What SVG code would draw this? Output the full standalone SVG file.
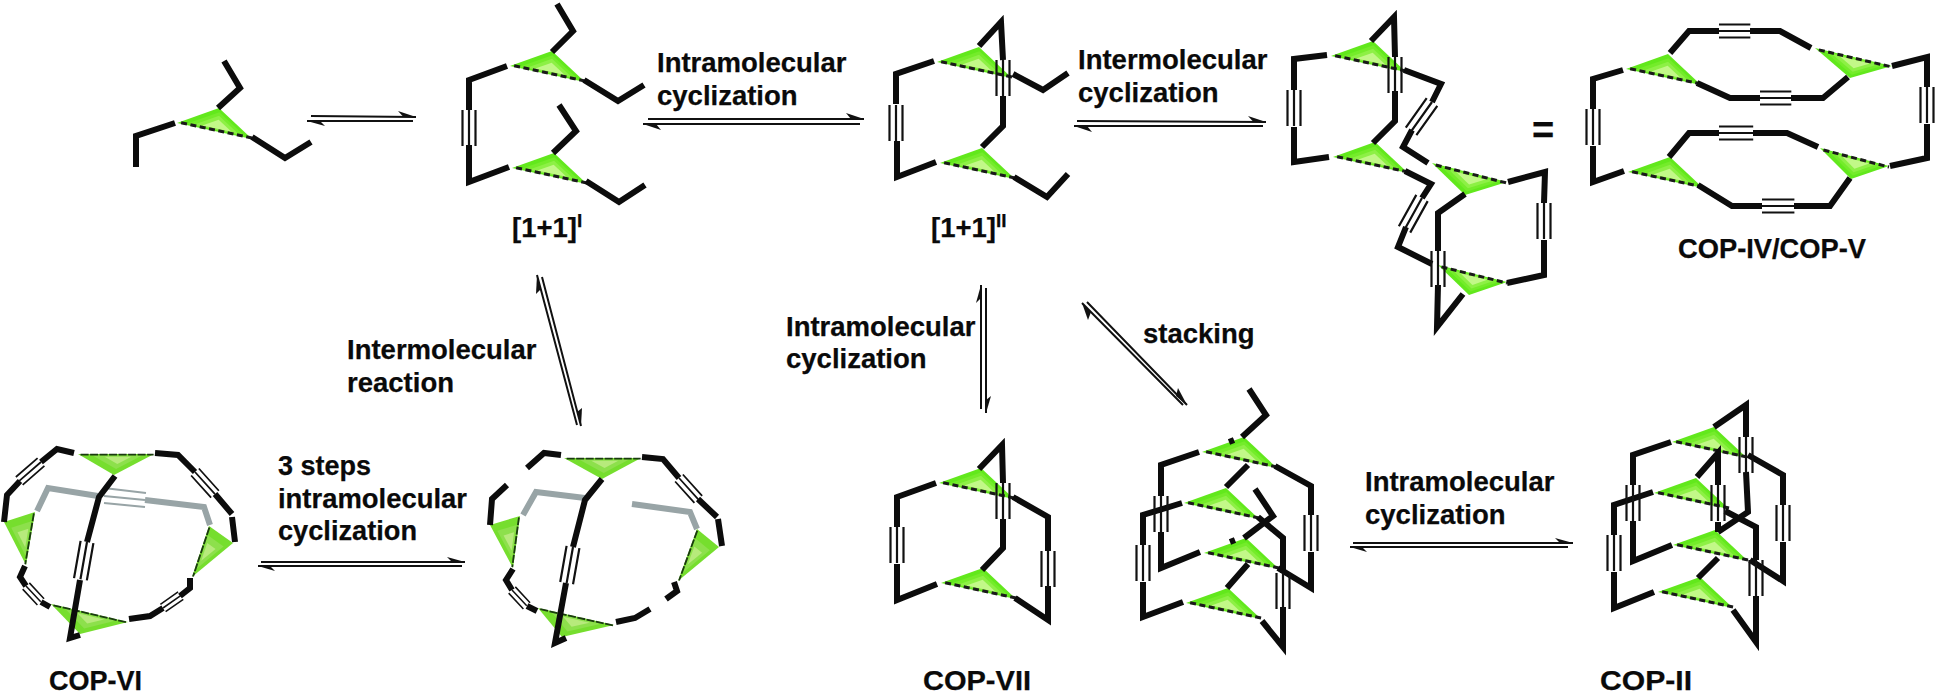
<svg xmlns="http://www.w3.org/2000/svg" width="1937" height="695" viewBox="0 0 1937 695">
<style>
.p{fill:none;stroke:#0c0c0c;stroke-width:6;stroke-linejoin:miter;stroke-linecap:butt}
.g{fill:none;stroke:#98a4a6;stroke-width:6;stroke-linejoin:miter}
.gt{fill:none;stroke:#98a4a6;stroke-width:2}
.l{fill:none;stroke:#111;stroke-width:2}
.h{fill:#111;stroke:none}
.t{font-family:"Liberation Sans",Arial,sans-serif;font-weight:700;font-size:27.5px;fill:#0a0a0a;stroke:#0a0a0a;stroke-width:.25}
.s{font-size:19px}
</style>
<defs>
<g id="T">
<polygon points="0,0 1,0 0,1" fill="#62e81c"/>
<polygon points=".1,.05 .88,.05 .1,.83" fill="#74ec2a"/>
<polygon points=".18,.08 .78,.08 .18,.68" fill="#8df045"/>
<polygon points=".27,.12 .66,.12 .27,.51" fill="#c2f888"/>
<line x1=".03" y1=".045" x2=".98" y2=".045" stroke="#1a1a1a" stroke-width="3" stroke-dasharray="6 3.5" vector-effect="non-scaling-stroke"/>
</g>
<g id="V">
<polygon points="0,0 1,0 0,1" fill="#76de2e"/>
<polygon points=".16,.07 .81,.07 .16,.72" fill="#8de04c"/>
<polygon points=".29,.13 .64,.13 .29,.48" fill="#b7ea7c"/>
<line x1=".02" y1=".03" x2=".98" y2=".03" stroke="#1a3a10" stroke-width="1.8" stroke-dasharray="8 1.5" vector-effect="non-scaling-stroke"/>
</g>
<use id="S" href="#T" transform="matrix(75 16 42 -15 0 0)"/>
<path id="b" d="M0,-6.5H36M0,0H36M0,6.5H36" fill="none" stroke="#111" stroke-width="2.2"/>
</defs>

<g id="connectors">
<path class="l" d="M311,116L416,117M413,121H307"/><polygon class="h" points="416,117 398,111 403,116.5"/><polygon class="h" points="307,121 325,126 320,121"/>
<path class="l" d="M648,119H864M860,124H643"/><polygon class="h" points="864,119 846,113 851,119"/><polygon class="h" points="643,124 661,130 656,124"/>
<path class="l" d="M1077,121L1266,122M1263,126H1074"/><polygon class="h" points="1266,122 1248,116 1253,121.5"/><polygon class="h" points="1074,126 1092,132 1087,126"/>
<path class="l" d="M537,275L577,425M542,277L581,426"/><polygon class="h" points="537,275 536,294 541,289"/><polygon class="h" points="581,426 582,408 577,412"/>
<path class="l" d="M981,285V409M986,288V413"/><polygon class="h" points="981,285 976,303 981,298"/><polygon class="h" points="986,413 991,396 986,400"/>
<path class="l" d="M1082,303L1183,405M1087,302L1187,405"/><polygon class="h" points="1082,303 1088,320 1091,312"/><polygon class="h" points="1187,405 1178,388 1176,396"/>
<path class="l" d="M261,562H465M462,566H258"/><polygon class="h" points="465,562 447,557 452,562"/><polygon class="h" points="258,566 275,571 270,566"/>
<path class="l" d="M1353,543H1573M1568,547H1350"/><polygon class="h" points="1573,543 1555,538 1560,543"/><polygon class="h" points="1350,547 1367,552 1362,547"/>
</g>

<g id="node-monomer">
<use href="#S" x="177" y="123"/>
<path class="p" d="M175,123L136,136V167M218,108L240,88L224,61M252,137L285,158L311,142"/>
</g>

<g id="node-1-1-I">
<use href="#S" x="510" y="66"/><use href="#S" x="512" y="168"/>
<path class="p" d="M552,52L573,31L557,4M584,80L618,101L644,85M507,66L469,80V110M469,145V182L509,167M553,153L576,131L559,105M586,181L619,202L645,185"/>
<use href="#b" transform="translate(469,110) rotate(90)"/>
<text class="t" x="512" y="237">[1+1]<tspan class="s" dy="-10">I</tspan></text>
</g>

<g id="node-1-1-II">
<use href="#S" x="937" y="62"/><use href="#S" x="940" y="163"/>
<path class="p" d="M934,61L896,74V104M897,141V177L936,162M979,46L1001,22L1003,60M1003,96V126L982,147M1013,74L1043,90L1068,73M1014,177L1047,197L1068,174"/>
<use href="#b" transform="translate(896,105) rotate(90)"/>
<use href="#b" transform="translate(1003,60) rotate(90)"/>
<text class="t" x="931" y="237">[1+1]<tspan class="s" dy="-10">II</tspan></text>
</g>

<g id="node-dimer">
<use href="#S" x="1331" y="56"/><use href="#S" x="1333" y="157"/>
<use href="#T" transform="matrix(75 19 33 32 1432 163)"/><use href="#T" transform="matrix(69 17 31 30 1438 265)"/>
<path class="p" d="M1327,55L1294,59V90M1294,127V162L1329,157M1371,41L1394,17L1395,57M1395,91V121L1373,143"/>
<path class="p" d="M1404,70L1441,84L1432,102M1412,130L1403,147L1428,163M1405,171L1431,184L1422,198M1406,227L1398,247L1432,264"/>
<path class="p" d="M1508,182L1545,172L1544,203M1544,240V275L1507,283M1465,194L1438,213V251M1438,285L1437,327L1463,294"/>
<use href="#b" transform="translate(1294,90) rotate(90)"/>
<use href="#b" transform="translate(1395,57) rotate(90)"/>
<use href="#b" transform="translate(1432,102) rotate(125.5)"/>
<use href="#b" transform="translate(1422,198) rotate(119)"/>
<use href="#b" transform="translate(1544,203) rotate(90)"/>
<use href="#b" transform="translate(1438,251) rotate(90)"/>
<text class="t" x="1532" y="143" style="font-size:38px">=</text>
</g>

<g id="node-cop-iv-v">
<use href="#S" x="1626" y="69"/><use href="#S" x="1628" y="172"/>
<use href="#T" transform="matrix(77 18 35 30 1815 48)"/><use href="#T" transform="matrix(69 18 31 31 1820 148)"/>
<path class="p" d="M1623,70L1593,79V109M1593,146V182L1624,171M1670,53L1689,31H1719M1750,31H1780L1811,48M1697,83L1730,98H1760M1791,98L1823,98L1848,77M1892,66L1927,57V87M1927,124V158L1890,166M1669,157L1689,133H1719M1753,133H1787L1818,147M1698,185L1732,206H1762M1794,206H1830L1850,178"/>
<use href="#b" transform="translate(1593,109) rotate(90)"/>
<use href="#b" transform="translate(1927,87) rotate(90)"/>
<use href="#b" transform="translate(1719,31) scale(.87,1)"/>
<use href="#b" transform="translate(1760,98) scale(.87,1)"/>
<use href="#b" transform="translate(1719,133) scale(.95,1)"/>
<use href="#b" transform="translate(1762,206) scale(.9,1)"/>
<text class="t" x="1678" y="258" textLength="188" lengthAdjust="spacingAndGlyphs">COP-IV/COP-V</text>
</g>

<g id="node-cop-vi">
<use href="#V" transform="matrix(76 0 36 21 78 454)"/><use href="#V" transform="matrix(-9 53 -31 10 35 512)"/><use href="#V" transform="matrix(-17 51 24 17 209 526)"/><use href="#V" transform="matrix(77 18 29 30 51 604)"/>
<path class="g" d="M37,511L48,488L98,496M145,500L204,507L210,525"/>
<path class="gt" d="M104,488L146,493M104,496L145,500M104,503L145,507"/>
<path class="p" d="M74,453L57,449L41,462M20,481L7,495L4,522M155,453L178,455L195,472M215,494L232,514M232,517L235,542M115,476L99,497L87,542M80,580L70,638L80,635M25,566L20,577L26,586M41,602L50,607M129,619L150,616L163,608M180,596L190,588V578"/>
<use href="#b" transform="translate(41,462) rotate(139) scale(.8,.8)"/>
<use href="#b" transform="translate(195,472) rotate(48) scale(.83,.8)"/>
<use href="#b" transform="translate(87,542) rotate(100) scale(1.05,1)"/>
<use href="#b" transform="translate(26,586) rotate(47) scale(.6,.7)"/>
<use href="#b" transform="translate(163,608) rotate(-35) scale(.6,.7)"/>
<text class="t" x="49" y="690" textLength="93" lengthAdjust="spacingAndGlyphs">COP-VI</text>
</g>

<g id="node-precursor">
<use href="#V" transform="matrix(77 0 38 21 564 458)"/><use href="#V" transform="matrix(-7 52 -30 9 520 516)"/><use href="#V" transform="matrix(-19 52 22 18 697 529)"/><use href="#V" transform="matrix(76 17 24 29 538 608)"/>
<path class="g" d="M523,515L536,492L585,498M632,504L690,512L697,529"/>
<path class="p" d="M527,468L544,453L561,455M507,485L492,499L490,525M642,457L663,459L679,478M698,499L717,517M718,519L722,546M602,479L585,500L573,547M566,583L555,643L566,638M513,569L506,580L512,590M527,606L537,611M616,622L635,618L650,609M666,599L677,591L674,582"/>
<use href="#b" transform="translate(679,478) rotate(48) scale(.8,.8)"/>
<use href="#b" transform="translate(573,547) rotate(100) scale(1.02,1)"/>
<use href="#b" transform="translate(512,590) rotate(47) scale(.6,.7)"/>
</g>

<g id="node-cop-vii">
<use href="#S" x="939" y="483"/><use href="#S" x="941" y="583"/>
<path class="p" d="M936,483L897,497V527M897,564V600L937,584M979,469L1002,445L1003,483M1003,519V548L982,570M1013,497L1048,517V551M1048,586V620L1015,598"/>
<use href="#b" transform="translate(897,527) rotate(90)"/>
<use href="#b" transform="translate(1003,483) rotate(90)"/>
<use href="#b" transform="translate(1048,551) rotate(90)"/>
<text class="t" x="923" y="690" textLength="108" lengthAdjust="spacingAndGlyphs">COP-VII</text>
</g>

<g id="node-stack">
<use href="#S" x="1202" y="452"/><use href="#S" x="1184" y="503"/><use href="#S" x="1204" y="553"/><use href="#S" x="1186" y="603"/>
<path class="p" d="M1199,452L1161,465V496M1161,532V568L1200,552M1242,437L1266,415L1249,389M1275,466L1311,486V515M1311,552V588L1278,568M1182,503L1143,515V545M1143,582V617L1183,602M1226,487L1248,465M1258,517L1283,538V573M1283,607V647L1262,621M1244,538L1273,516L1255,489M1227,588L1248,564M1229,442L1234,440M1230,542L1235,540"/>
<use href="#b" transform="translate(1161,496) rotate(90)"/>
<use href="#b" transform="translate(1311,515) rotate(90)"/>
<use href="#b" transform="translate(1143,545) rotate(90)"/>
<use href="#b" transform="translate(1283,573) rotate(90)"/>
</g>

<g id="node-cop-ii">
<use href="#S" x="1672" y="442"/><use href="#S" x="1654" y="493"/><use href="#S" x="1673" y="545"/><use href="#S" x="1658" y="592"/>
<path class="p" d="M1671,442L1633,455V485M1633,521V561L1672,545M1714,427L1746,405V437M1746,472L1748,512L1718,532M1748,455L1783,475V505M1783,542V581L1750,560M1653,492L1614,505V535M1614,572V608L1654,592M1697,477L1718,453V485M1718,522V532M1725,511L1756,527V560M1756,596V642L1733,610M1698,578L1718,558"/>
<use href="#b" transform="translate(1633,485) rotate(90)"/>
<use href="#b" transform="translate(1746,437) rotate(90)"/>
<use href="#b" transform="translate(1783,505) rotate(90)"/>
<use href="#b" transform="translate(1614,535) rotate(90)"/>
<use href="#b" transform="translate(1718,485) rotate(90)"/>
<use href="#b" transform="translate(1756,560) rotate(90)"/>
<text class="t" x="1600" y="690" textLength="92" lengthAdjust="spacingAndGlyphs">COP-II</text>
</g>

<g id="labels">
<text class="t" x="657" y="72">Intramolecular</text>
<text class="t" x="657" y="105">cyclization</text>
<text class="t" x="1078" y="69">Intermolecular</text>
<text class="t" x="1078" y="102">cyclization</text>
<text class="t" x="347" y="359">Intermolecular</text>
<text class="t" x="347" y="392">reaction</text>
<text class="t" x="786" y="336">Intramolecular</text>
<text class="t" x="786" y="368">cyclization</text>
<text class="t" x="1143" y="343">stacking</text>
<text class="t" x="278" y="475" textLength="93" lengthAdjust="spacingAndGlyphs">3 steps</text>
<text class="t" x="278" y="508" textLength="189" lengthAdjust="spacingAndGlyphs">intramolecular</text>
<text class="t" x="278" y="540" textLength="139" lengthAdjust="spacingAndGlyphs">cyclization</text>
<text class="t" x="1365" y="491">Intramolecular</text>
<text class="t" x="1365" y="524">cyclization</text>
</g>
</svg>
